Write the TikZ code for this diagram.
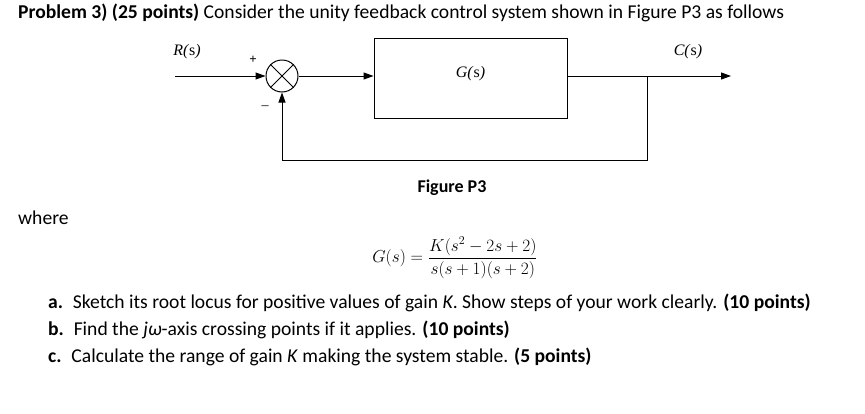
\documentclass[tikz,border=0pt]{standalone}
\usepackage{fontspec}
\setmainfont{Carlito}
\newfontfamily\tms{Liberation Serif}
\usetikzlibrary{arrows.meta}
\begin{document}
\begin{tikzpicture}[x=1pt,y=-1pt,
  ln/.style={line width=1pt},
  ar/.style={ln,-{Triangle[length=10pt,width=7pt]}},
  txt/.style={inner sep=0,font=\fontsize{19.6}{23}\selectfont},
  lbl/.style={inner sep=0,font=\tms\itshape\fontsize{16}{18}\selectfont}]
\useasboundingbox (0,0) rectangle (865,413);
\node[txt,anchor=west] (title) at (18,13) {\textbf{Problem 3) (25 points)} Consider the unity feedback control system shown in Figure P3 as follows};
\coordinate (in) at (175,76);
\node[circle,draw,ln,minimum size=32pt,inner sep=0] (sum) at (282,76) {};
\draw[ln] (sum.north west)--(sum.south east) (sum.north east)--(sum.south west);
\node[draw,ln,minimum width=193pt,minimum height=80pt,inner sep=0] (G) at (470.5,78) {};
\node[lbl] (Gt) at (470.5,74) {G(\textup{s})};
\coordinate (br) at (647,76);
\coordinate (out) at (731,76);
\coordinate (fb) at (647,160);
\coordinate (fs) at (282,160);
\draw[ar] (in)--(sum.west);
\draw[ar] (sum.east)--(G.west|-sum);
\draw[ar] (G.east|-sum)--(out);
\draw[ar] (br)--(fb)--(fs)--(sum.south);
\node[lbl] (R) at (187,52) {R(\textup{s})};
\node[lbl] (C) at (688,52) {C(\textup{s})};
\node[inner sep=0,font=\tms\bfseries\fontsize{13}{14}\selectfont] (p) at (253,60) {+};
\node[inner sep=0,font=\tms\fontsize{14}{16}\selectfont] (m) at (265,108) {\textendash};
\node[txt,font=\bfseries\fontsize{18}{21}\selectfont] (fig) at (452,188) {Figure P3};
\node[txt,anchor=west] (where) at (18,218) {where};
\node[inner sep=0,font=\fontsize{18.5}{22}\selectfont] (eq) at (455,258) {$G(s)=\displaystyle\frac{K(s^2-2s+2)}{s(s+1)(s+2)}$};
\node[txt,anchor=west] (a) at (48,303) {\textbf{a.}\enspace Sketch its root locus for positive values of gain \textit{K}. Show steps of your work clearly. \textbf{(10 points)}};
\node[txt,anchor=west] (b) at (48,330) {\textbf{b.}\enspace Find the \textit{jω}-axis crossing points if it applies. \textbf{(10 points)}};
\node[txt,anchor=west] (c) at (48,357) {\textbf{c.}\enspace Calculate the range of gain \textit{K} making the system stable. \textbf{(5 points)}};
\end{tikzpicture}
\end{document}
